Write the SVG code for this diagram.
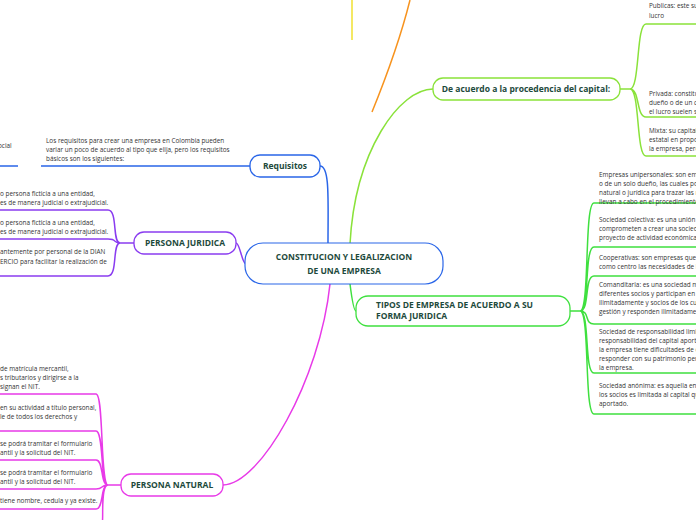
<svg xmlns="http://www.w3.org/2000/svg" width="696" height="520" viewBox="0 0 696 520">
<style>
.t{font-family:"Open Sans","Noto Sans",sans-serif;font-size:6.4px;fill:#333}
.n{font-family:"Open Sans","Noto Sans",sans-serif;font-size:8.5px;font-weight:bold;fill:#1d4a3c;text-anchor:middle}
.s{text-anchor:start}
.c{fill:none;stroke-width:1.5}
</style>
<rect width="696" height="520" fill="#fff"/>
<g id="connectors">
<path class="c" stroke="#f0e030" d="M352,0 L352,40"/>
<path class="c" stroke="#f7931e" d="M410,0 C400,40 385,80 372,112"/>
<path class="c" stroke="#2a66e8" d="M328,244 C328,200 330,166 320,166"/>
<path class="c" stroke="#2a66e8" d="M250,166 L225,166 L41,166 M18,166 L0,166" stroke-width="2"/>
<path class="c" stroke="#8a3cf0" d="M246,264 C242,264 240,243 236,243"/>
<path class="c" stroke="#8a3cf0" d="M134,243 L120,243 C112,243 118,210 108,210 L0,210 M120,243 C112,243 118,239 108,239 L0,239 M120,243 C112,243 118,276 108,276 L0,276"/>
<path class="c" stroke="#e83ae8" d="M330,284 C320,380 260,485 223,485"/>
<path class="c" stroke="#e83ae8" d="M121,485 L108,485 C100,485 104,394 96,394 L0,394 M108,485 C100,485 104,431 96,431 L0,431 M108,485 C100,485 104,460 96,460 L0,460 M108,485 C100,485 104,489 96,489 L0,489 M108,485 C100,485 104,509 96,509 L0,509 M108,485 C100,485 104,520 102,525"/>
<path class="c" stroke="#8ae23a" d="M350,244 C355,150 400,89 433,89"/>
<path class="c" stroke="#8ae23a" d="M620,89 L630,89 C640,89 636,24 646,24 L696,24 M630,89 C640,89 636,117 646,117 L696,117 M630,89 C640,89 636,156 646,156 L696,156"/>
<path class="c" stroke="#3fe03f" d="M350,284 C352,300 354,311 356,311"/>
<path class="c" stroke="#3fe03f" d="M570,311 L580,311 C590,311 584,203 594,203 L696,203 M580,311 C590,311 584,247 594,247 L696,247 M580,311 C590,311 584,276 594,276 L696,276 M580,311 C590,311 584,324 594,324 L696,324 M580,311 C590,311 584,373 594,373 L696,373 M580,311 C590,311 584,414 594,414 L696,414"/>
</g>
<g id="center"><rect x="245" y="243" width="198" height="41" rx="18" fill="#fff" stroke="#2a66e8" stroke-width="1.2"/>
<text class="n" x="344" y="260" font-size="10">CONSTITUCION Y LEGALIZACION</text><text class="n" x="344" y="274" font-size="10">DE UNA EMPRESA</text></g>
<g id="requisitos"><rect x="250" y="155" width="70" height="22" rx="10" fill="#fff" stroke="#2a66e8" stroke-width="1.3"/><text class="n" x="285" y="169">Requisitos</text>
<text class="t" x="-2" y="148">ocial</text>
<text class="t" x="46" y="143">Los requisitos para crear una empresa en Colombia pueden</text>
<text class="t" x="46" y="152">variar un poco de acuerdo al tipo que elija, pero los requisitos</text>
<text class="t" x="46" y="161">básicos son los siguientes:</text></g>
<g id="juridica"><rect x="134" y="232" width="102" height="22" rx="10" fill="#fff" stroke="#8a3cf0" stroke-width="1.3"/><text class="n" x="185" y="246">PERSONA JURIDICA</text>
<text class="t" x="0" y="196">o persona ficticia a una entidad,</text><text class="t" x="0" y="205">es de manera judicial o extrajudicial.</text>
<text class="t" x="0" y="225">o persona ficticia a una entidad,</text><text class="t" x="0" y="234">es de manera judicial o extrajudicial.</text>
<text class="t" x="0" y="254">antemente por personal de la DIAN</text><text class="t" x="0" y="264">ERCIO para facilitar la realización de</text></g>
<g id="natural"><rect x="121" y="474" width="102" height="22" rx="10" fill="#fff" stroke="#e83ae8" stroke-width="1.3"/><text class="n" x="172" y="488">PERSONA NATURAL</text>
<text class="t" x="0" y="371">de matrícula mercantil,</text><text class="t" x="0" y="380">s tributarios y dirigirse a la</text><text class="t" x="0" y="389">signan el NIT.</text>
<text class="t" x="0" y="410">en su actividad a título personal,</text><text class="t" x="0" y="419">le de todos los derechos y</text>
<text class="t" x="0" y="446">se podrá tramitar el formulario</text><text class="t" x="0" y="455">antil y la solicitud del NIT.</text>
<text class="t" x="0" y="475">se podrá tramitar el formulario</text><text class="t" x="0" y="484">antil y la solicitud del NIT.</text>
<text class="t" x="0" y="503">tiene nombre, cedula y ya existe.</text></g>
<g id="capital"><rect x="433" y="78" width="187" height="22" rx="10" fill="#fff" stroke="#8ae23a" stroke-width="1.3"/><text class="n" x="526" y="92">De acuerdo a la procedencia del capital:</text>
<text class="t" x="649" y="8">Publicas: este sue</text><text class="t" x="649" y="18">lucro</text>
<text class="t" x="649" y="96">Privada: constitui</text><text class="t" x="649" y="105">dueño o de un co</text><text class="t" x="649" y="114">el lucro suelen se</text>
<text class="t" x="649" y="133">Mixta: su capital p</text><text class="t" x="649" y="142">estatal en propor</text><text class="t" x="649" y="151">la empresa, pero</text></g>
<g id="tipos"><rect x="356" y="296" width="214" height="30" rx="12" fill="#fff" stroke="#3fe03f" stroke-width="1.3"/><text class="n s" x="376" y="308">TIPOS DE EMPRESA DE ACUERDO A SU</text><text class="n s" x="376" y="319">FORMA JURIDICA</text>
<text class="t" x="599" y="177">Empresas unipersonales:  son emp</text><text class="t" x="599" y="186">o de un solo dueño, las cuales podi</text><text class="t" x="599" y="195">natural o jurídica para trazar las re</text><text class="t" x="599" y="204">llevan a cabo en el procedimiento e</text>
<text class="t" x="599" y="222">Sociedad colectiva: es una unión de</text><text class="t" x="599" y="231">comprometen a crear una socieda</text><text class="t" x="599" y="240">proyecto de actividad económica</text>
<text class="t" x="599" y="260">Cooperativas: son empresas que p</text><text class="t" x="599" y="269">como centro las necesidades de la</text>
<text class="t" x="599" y="287">Comanditaria: es una sociedad me</text><text class="t" x="599" y="296">diferentes socios y participan en la</text><text class="t" x="599" y="305">ilimitadamente y socios de los cual</text><text class="t" x="599" y="314">gestión y responden ilimitadament</text>
<text class="t" x="599" y="334">Sociedad de responsabilidad limita</text><text class="t" x="599" y="343">responsabilidad del capital aportad</text><text class="t" x="599" y="352">la empresa tiene dificultades de de</text><text class="t" x="599" y="361">responder con su patrimonio perso</text><text class="t" x="599" y="370">la empresa.</text>
<text class="t" x="599" y="388">Sociedad anónima: es aquella en la</text><text class="t" x="599" y="397">los socios es limitada al capital que</text><text class="t" x="599" y="406">aportado.</text></g>
</svg>
